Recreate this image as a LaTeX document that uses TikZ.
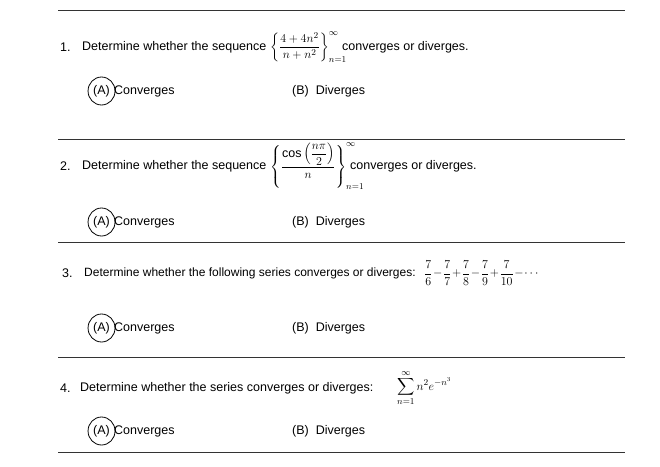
\documentclass[tikz,border=0pt]{standalone}
\usepackage{amsmath}
\usepackage{fontspec}
\setmainfont{Liberation Sans}
\usetikzlibrary{shapes.geometric}
\begin{document}
\begin{tikzpicture}[x=1pt,y=-1pt,
  txt/.style={anchor=west,inner sep=0pt,font=\fontsize{12.5}{14}\selectfont},
  rule/.style={line width=0.9pt,draw=black!80},
  circ/.style={draw,line width=0.8pt,ellipse,minimum width=27pt,minimum height=28pt,inner sep=0pt}]
\useasboundingbox (0,0) rectangle (660,466);
\draw[rule] (58,10) -- (625,10);
\draw[rule] (58,139) -- (625,139);
\draw[rule] (58,242) -- (625,242);
\draw[rule] (58,357) -- (625,357);
\draw[rule] (58,452) -- (625,452);
% Q1
\node[txt] (q1) at (60,47) {1.};
\node[txt] (t1) at (82,47) {Determine whether the sequence};
\node[txt] (m1) at (270,47) {$\left\{\dfrac{4+4n^2}{n+n^2}\right\}_{n=1}^{\infty}$};
\node[txt] (e1) at (342,47) {converges or diverges.};
\node[txt] (a1) at (93,91) {(A)};
\node[txt] (ac1) at (114,91) {Converges};
\node[txt] (b1) at (292,91) {(B)\ \ Diverges};
% Q2
\node[txt] (q2) at (60,166) {2.};
\node[txt] (t2) at (82,166) {Determine whether the sequence};
\node[txt] (m2) at (270,166) {$\left\{\dfrac{\cos\left(\dfrac{n\pi}{2}\right)}{n}\right\}_{n=1}^{\infty}$};
\node[txt] (e2) at (350,166) {converges or diverges.};
\node[txt] (a2) at (93,222) {(A)};
\node[txt] (ac2) at (114,222) {Converges};
\node[txt] (b2) at (292,222) {(B)\ \ Diverges};
% Q3
\node[txt] (q3) at (62,273) {3.};
\node[txt,font=\fontsize{12}{14}\selectfont] (t3) at (84,273) {Determine whether the following series converges or diverges:};
\node[txt] (m3) at (424,273) {$\dfrac{7}{6}\!-\!\dfrac{7}{7}\!+\!\dfrac{7}{8}\!-\!\dfrac{7}{9}\!+\!\dfrac{7}{10}\!-\!\cdots$};
\node[txt] (a3) at (93,328) {(A)};
\node[txt] (ac3) at (114,328) {Converges};
\node[txt] (b3) at (292,328) {(B)\ \ Diverges};
% Q4
\node[txt] (q4) at (60,388) {4.};
\node[txt] (t4) at (80,388) {Determine whether the series converges or diverges:};
\node[txt] (m4) at (397,388) {$\displaystyle\sum_{n=1}^{\infty} n^2e^{-n^3}$};
\node[txt] (a4) at (93,431) {(A)};
\node[txt] (ac4) at (114,431) {Converges};
\node[txt] (b4) at (292,431) {(B)\ \ Diverges};
\node[circ] (c1) at (a1) {};
\node[circ] (c2) at (a2) {};
\node[circ] (c3) at (a3) {};
\node[circ] (c4) at (a4) {};
\end{tikzpicture}
\end{document}
